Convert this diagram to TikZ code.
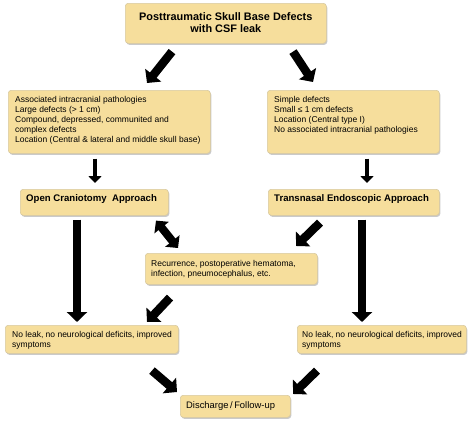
\documentclass[tikz,border=0pt]{standalone}
\usepackage{fontspec}
\setmainfont{Liberation Sans}
\usetikzlibrary{arrows.meta,shadows,calc}
\definecolor{boxfill}{HTML}{F6DE9C}
\definecolor{boxline}{HTML}{D8C9A0}
\begin{document}
\begin{tikzpicture}[x=1pt,y=-1pt,
  box/.style={draw=boxline, line width=0.6pt, fill=boxfill, rounded corners=3pt,
    drop shadow={shadow xshift=1pt, shadow yshift=-1.5pt, opacity=0.35, fill=black!60},
    anchor=north west, inner sep=0pt},
  txt/.style={anchor=north west, inner sep=0pt, align=left, font=\fontsize{8.5}{9.9}\selectfont},
  btxt/.style={anchor=west, inner sep=0pt, align=left, font=\bfseries\fontsize{9.6}{10}\selectfont},
  bigarrow/.style={line width=8.5pt, -{Triangle[length=10pt,width=20pt]}, black},
  smallarrow/.style={line width=4.5pt, -{Triangle[length=7pt,width=13pt]}, black},
  dblarrow/.style={line width=8pt, {Triangle[length=9pt,width=18pt]}-{Triangle[length=9pt,width=18pt]}, black}]
\useasboundingbox (0,0) rectangle (474,423);

% boxes
\node[box, minimum width=201, minimum height=40] (top) at (125,3) {};
\node[anchor=center, inner sep=0pt, align=center, font=\bfseries\fontsize{10.9}{12.5}\selectfont] (topt) at ($(top.center)+(0,-0.5)$) {Posttraumatic Skull Base Defects\\with CSF leak};

\node[box, minimum width=202, minimum height=63] (A) at (8,90) {};
\node[txt] (At) at (15,96.5) {Associated intracranial pathologies\\Large defects (> 1 cm)\\Compound, depressed, communited and\\complex defects\\Location (Central \& lateral and middle skull base)};

\node[box, minimum width=172, minimum height=63] (B) at (267,90) {};
\node[txt] (Bt) at (274,96.5) {Simple defects\\Small ≤ 1 cm defects\\Location (Central type I)\\No associated intracranial pathologies};

\node[box, minimum width=148, minimum height=26] (open) at (20,189) {};
\node[btxt] (opent) at (26,199) {Open Craniotomy\ \ Approach};

\node[box, minimum width=171, minimum height=26] (trans) at (268,189) {};
\node[btxt] (transt) at (274,199) {Transnasal Endoscopic Approach};

\node[box, minimum width=172, minimum height=31] (rec) at (145,253) {};
\node[txt] (rect) at (151,260) {Recurrence, postoperative hematoma,\\infection, pneumocephalus, etc.};

\node[box, minimum width=173, minimum height=28] (L) at (5,325) {};
\node[txt] (Lt) at (12,331) {No leak, no neurological deficits, improved\\symptoms};

\node[box, minimum width=169, minimum height=28] (R) at (297,325) {};
\node[txt] (Rt) at (302,331) {No leak, no neurological deficits, improved\\symptoms};

\node[box, minimum width=110, minimum height=22] (dis) at (180,395) {};
\node[txt, anchor=west, font=\fontsize{9.4}{9.6}\selectfont] (dist) at (186,406.5) {Discharge\,/\,Follow-up};

% arrows
\draw[bigarrow] ($(top.south west)+(47,8)$) -- ($(A.north west)+(139,-7)$);
\draw[bigarrow] ($(top.south west)+(168,8)$) -- ($(B.north west)+(46,-8)$);
\draw[smallarrow] ($(A.south west)+(87,5)$) -- ($(open.north west)+(75,-6)$);
\draw[smallarrow] ($(B.south west)+(100,5)$) -- ($(trans.north west)+(99,-6)$);
\draw[bigarrow] ($(open.south west)+(57,4)$) -- ($(L.north west)+(72,-3)$);
\draw[bigarrow] ($(trans.south west)+(94,4)$) -- ($(R.north west)+(65,-3)$);
\draw[dblarrow] ($(open.south west)+(136,5)$) -- ($(rec.north west)+(33,-5)$);
\draw[bigarrow] ($(trans.south west)+(52,7)$) -- ($(rec.north west)+(151,-7)$);
\draw[bigarrow] ($(rec.south west)+(25,13)$) -- ($(L.north west)+(142,-3)$);
\draw[bigarrow] ($(L.south west)+(147,17)$) -- ($(dis.north west)+(-3,-3)$);
\draw[bigarrow] ($(R.south west)+(20,17)$) -- ($(dis.north west)+(113,-1)$);
\end{tikzpicture}
\end{document}
